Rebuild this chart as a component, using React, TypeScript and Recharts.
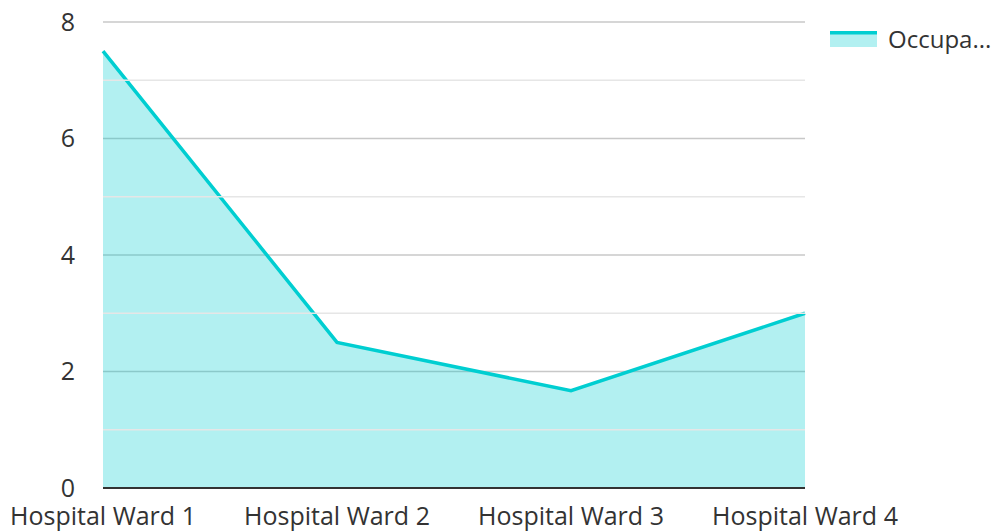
import React from "react";
import { Area, AreaChart, CartesianGrid, Legend, ReferenceLine, XAxis, YAxis } from "recharts";

const WARDS = ["Hospital Ward 1", "Hospital Ward 2", "Hospital Ward 3", "Hospital Ward 4"];
const OCCUPANCY = [7.5, 2.5, 1.67, 3.0];
const Y_TICKS = [0, 2, 4, 6, 8];
const MINOR_TICKS = [1, 3, 5, 7];
const SERIES_NAME = "Occupancy";

const TEAL = "#00CED1";
const FONT = "'Open Sans', 'Noto Sans', sans-serif";

const data = WARDS.map((w, i) => ({ ward: w, value: OCCUPANCY[i] }));

function LegendBox() {
  return (
    <div style={{ display: "flex", alignItems: "center", fontFamily: FONT, fontSize: 24, color: "#333" }}>
      <svg width={47} height={16} style={{ marginRight: 11 }}>
        <rect x={0} y={0} width={47} height={16} fill={TEAL} fillOpacity={0.3} />
        <rect x={0} y={0} width={47} height={3.5} fill={TEAL} />
      </svg>
      <span>{SERIES_NAME.slice(0, 6) + "..."}</span>
    </div>
  );
}

export default function App() {
  return (
    <div style={{ position: "absolute", left: 0, top: 0, background: "#fff" }}>
      <AreaChart
        width={998}
        height={531}
        data={data}
        margin={{ top: 22, right: 193, bottom: 0, left: 0 }}
      >
        <CartesianGrid vertical={false} stroke="#c8c8c8" strokeWidth={1.5} />
        {MINOR_TICKS.map((t) => (
          <ReferenceLine key={t} y={t} stroke="#e6e6e6" strokeWidth={1.5} />
        ))}
        <XAxis
          dataKey="ward"
          height={43}
          tickLine={false}
          axisLine={{ stroke: "#333", strokeWidth: 2 }}
          tick={{ fill: "#333", fontSize: 25, fontFamily: FONT }}
          tickMargin={13}
          interval={0}
        />
        <YAxis
          width={103}
          domain={[0, 8]}
          ticks={Y_TICKS}
          axisLine={false}
          tickLine={false}
          tick={{ fill: "#333", fontSize: 25, fontFamily: FONT }}
          tickMargin={22}
        />
        <Legend
          layout="horizontal"
          verticalAlign="middle"
          align="center"
          content={() => <LegendBox />}
          wrapperStyle={{ left: 830, top: 22, width: 168 }}
        />
        <Area
          type="linear"
          dataKey="value"
          name={SERIES_NAME}
          stroke={TEAL}
          strokeWidth={3.5}
          fill={TEAL}
          fillOpacity={0.3}
          dot={false}
          activeDot={false}
          isAnimationActive={false}
        />
      </AreaChart>
    </div>
  );
}
